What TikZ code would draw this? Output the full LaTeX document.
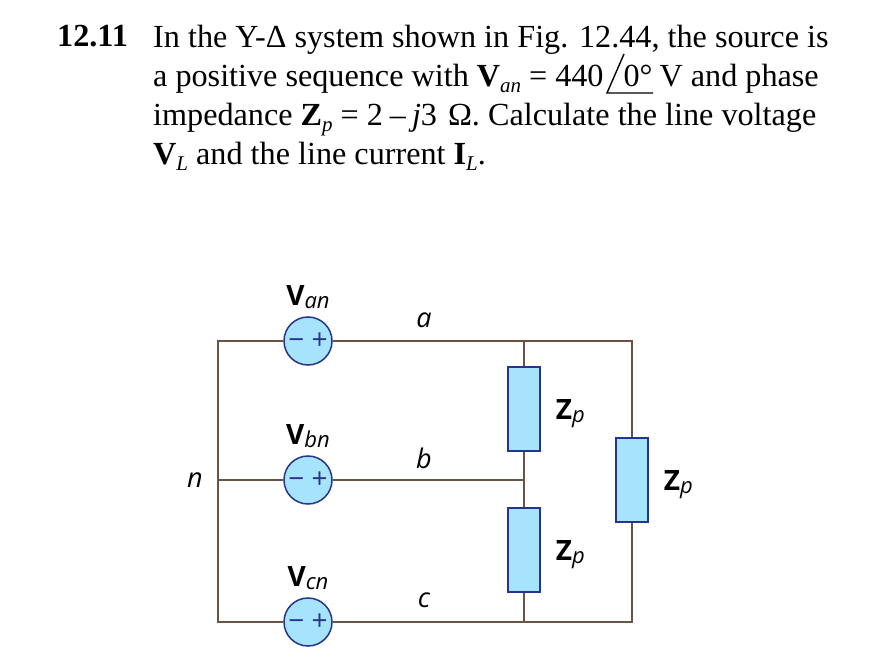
\documentclass[tikz,border=0pt]{standalone}
\usepackage{fontspec}
\usepackage{xcolor}
\setmainfont{Liberation Serif}
\setsansfont{Open Sans}
\usetikzlibrary{positioning}
\definecolor{wireBrown}{HTML}{6B5344}
\definecolor{partBlue}{HTML}{A6E3FD}
\definecolor{edgeNavy}{HTML}{27348B}
\newcommand{\lowsub}[1]{\raisebox{-6pt}{\fontsize{21}{21}\selectfont\textit{#1}}}
\newcommand{\boldsym}[2]{{\fontsize{28}{28}\selectfont\sffamily\bfseries #1}\raisebox{-0.3em}{\fontsize{22}{22}\selectfont\sffamily\itshape #2}}
\newcommand{\polarity}{\raisebox{-2pt}{−\hspace{7pt}+}}
\begin{document}
\begin{tikzpicture}
      [x=1pt,y=-1pt,
       sourceCircle/.style={circle,draw=edgeNavy,fill=partBlue,line width=1.5pt,minimum size=48pt,inner sep=0pt,text=edgeNavy,font=\fontsize{28}{28}\selectfont\sffamily},
       impedanceBox/.style={rectangle,draw=edgeNavy,fill=partBlue,line width=1.5pt,minimum width=32pt,minimum height=84pt,inner sep=0pt},
       wireLine/.style={draw=wireBrown,line width=1.5pt},
       nodeLabel/.style={font=\fontsize{27}{27}\selectfont\sffamily\itshape,inner sep=0pt},
       symbolLabel/.style={inner sep=0pt},
       textLines/.style={anchor=north west,inner sep=0pt,align=left,font=\fontsize{32.2}{39}\selectfont}]
      \useasboundingbox (0,0) rectangle (876,666);
      % problem statement
      \node[textLines,font=\fontsize{32.2}{39}\selectfont\bfseries] (number) at (57,25) {12.11};
      \node[textLines] (statement) at (153,25) {In the Y-Δ system shown in Fig. 12.44, the source is\\
        a positive sequence with \textbf{V}\lowsub{an}\hspace{8pt}=\hspace{8pt}440\hspace{20pt}0°\hspace{7pt}V and phase\\
        impedance \textbf{Z}\lowsub{p}\hspace{8pt}=\hspace{8pt}2\hspace{7pt}--\hspace{6pt}\textit{j}3\hspace{11pt}Ω. Calculate the line voltage\\
        \textbf{V}\lowsub{L} and the line current \textbf{I}\lowsub{L}.};
      \draw[line width=1.4pt] (624,54) -- (607,93) -- (653,93);
      % sources
      \node[sourceCircle] (sourceA) at (308,341) {\polarity};
      \node[sourceCircle] (sourceB) at (308,480) {\polarity};
      \node[sourceCircle] (sourceC) at (308,622) {\polarity};
      \node[symbolLabel] (labelVan) [above=7pt of sourceA] {\boldsym{V}{an}};
      \node[symbolLabel] (labelVbn) [above=7pt of sourceB] {\boldsym{V}{bn}};
      \node[symbolLabel] (labelVcn) [above=7pt of sourceC] {\boldsym{V}{cn}};
      % impedances
      \node[impedanceBox] (boxAB) at (524,409) {};
      \node[impedanceBox] (boxBC) at (524,550) {};
      \node[impedanceBox] (boxCA) at (632,480) {};
      \node[symbolLabel] (labelAB) [right=15pt of boxAB,yshift=-5pt] {\boldsym{Z}{p}};
      \node[symbolLabel] (labelBC) [right=15pt of boxBC,yshift=-5pt] {\boldsym{Z}{p}};
      \node[symbolLabel] (labelCA) [right=15pt of boxCA,yshift=-5pt] {\boldsym{Z}{p}};
      % corners and junctions
      \coordinate (cornerNW) at (218,341);
      \coordinate (pointN) at (218,480);
      \coordinate (cornerSW) at (218,622);
      \coordinate (topAB) at (524,341);
      \coordinate (midB) at (524,480);
      \coordinate (lowBC) at (524,622);
      \coordinate (cornerNE) at (632,341);
      \coordinate (cornerSE) at (632,622);
      % wires
      \draw[wireLine] (sourceA.west) -- (cornerNW) -- (cornerSW) -- (sourceC.west);
      \draw[wireLine] (pointN) -- (sourceB.west);
      \draw[wireLine] (sourceA.east) -- (cornerNE) -- (boxCA.north);
      \draw[wireLine] (boxCA.south) -- (cornerSE) -- (sourceC.east);
      \draw[wireLine] (sourceB.east) -- (midB);
      \draw[wireLine] (topAB) -- (boxAB.north);
      \draw[wireLine] (boxAB.south) -- (boxBC.north);
      \draw[wireLine] (boxBC.south) -- (lowBC);
      % line names
      \node[nodeLabel] (labelN) at (195,480) {n};
      \node[nodeLabel] (labelA) at (424,320) {a};
      \node[nodeLabel] (labelB) at (424,458) {b};
      \node[nodeLabel] (labelC) at (424,600) {c};
    \end{tikzpicture}
\end{document}
